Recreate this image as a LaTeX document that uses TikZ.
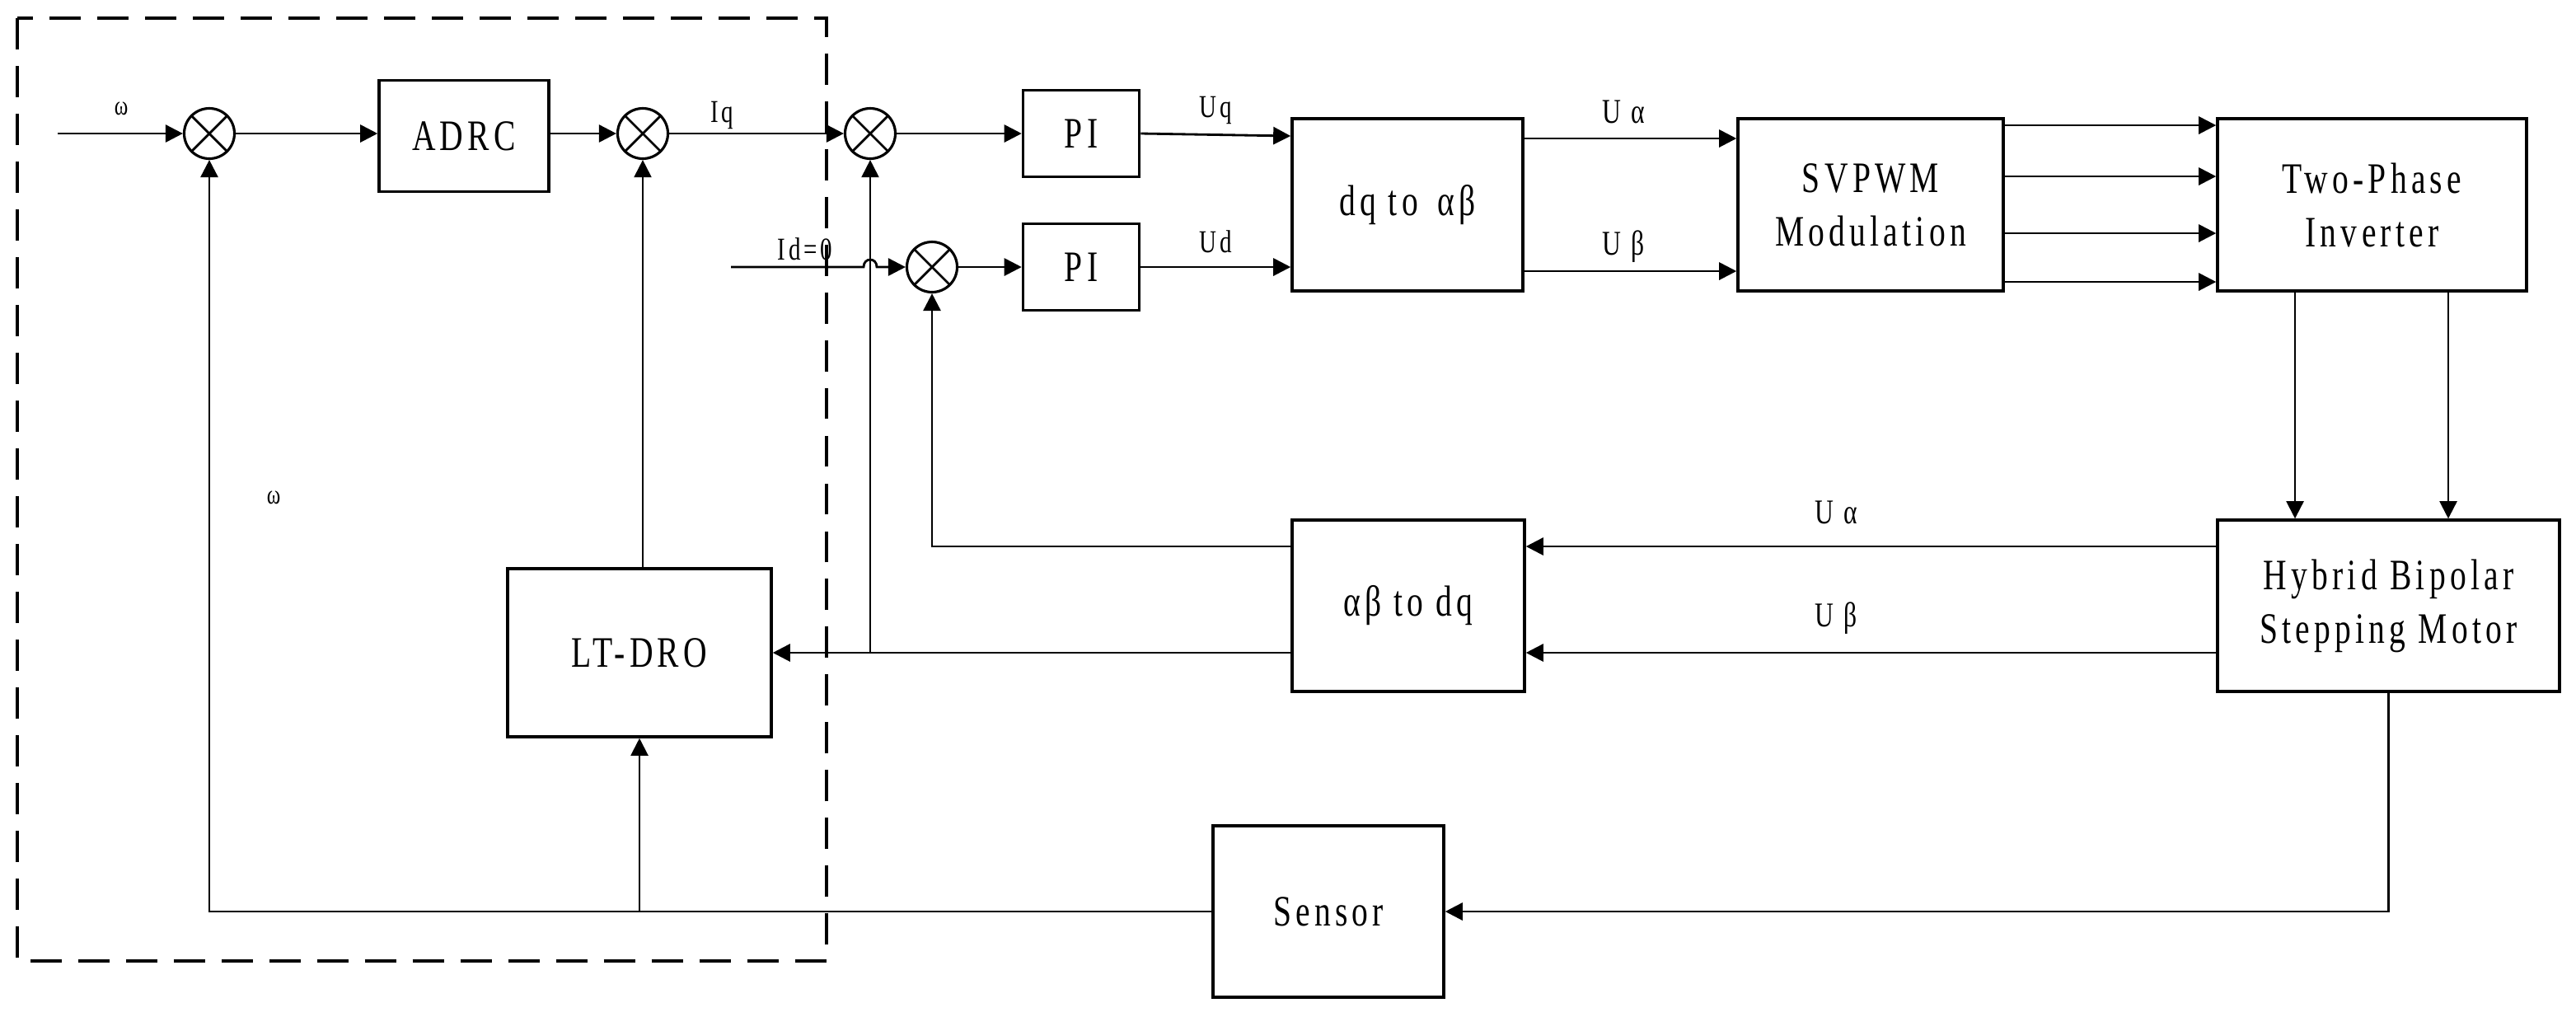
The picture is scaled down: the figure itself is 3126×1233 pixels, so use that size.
\documentclass[tikz,border=0pt]{standalone}
\usepackage{fontspec}
\setmainfont[FakeStretch=0.75,LetterSpace=10]{Liberation Serif}
\usetikzlibrary{arrows.meta}
\begin{document}
\begin{tikzpicture}[x=0.1mm,y=-0.1mm,
  line width=0.8pt,
  blk/.style={draw,line width=1pt,inner sep=0pt,align=center,
    font=\fontsize{15}{18.5}\selectfont},
  sumj/.style={circle,draw,line width=0.9pt,minimum size=6.1mm,inner sep=0pt,
    path picture={\draw[line width=0.8pt]
      (path picture bounding box.north west) -- (path picture bounding box.south east)
      (path picture bounding box.north east) -- (path picture bounding box.south west);}},
  arr/.style={-{Triangle[length=6pt,width=6pt]}},
  thin/.style={line width=0.6pt},
  lbl/.style={inner sep=0pt,font=\fontsize{12}{14}\selectfont},
  slbl/.style={inner sep=0pt,font=\fontsize{11}{13}\selectfont},
  wlbl/.style={inner sep=0pt,font=\fontsize{9.5}{11}\selectfont}]
\useasboundingbox (0,0) rectangle (3126,1233);

% dashed controller frame
\draw[line width=0.9pt,dash pattern=on 10.8pt off 5.7pt] (21,22) rectangle (1003,1166);

% nodes
\node[sumj] (s1) at (254,162) {};
\node[blk,minimum width=20.6mm,minimum height=13.5mm] (adrc) at (563,165) {ADRC};
\node[sumj] (s2) at (780,162) {};
\node[sumj] (s3) at (1056,162) {};
\node[blk,minimum width=14.1mm,minimum height=10.5mm] (pi1) at (1312,162) {PI};
\node[sumj] (s4) at (1131,324) {};
\node[blk,minimum width=14.1mm,minimum height=10.5mm] (pi2) at (1312,324) {PI};
\node[blk,minimum width=28mm,minimum height=20.9mm] (dq) at (1708,248.5) {dq to \,αβ};
\node[blk,minimum width=32.2mm,minimum height=20.9mm] (svpwm) at (2270,248.5) {SVPWM\\Modulation};
\node[blk,minimum width=37.5mm,minimum height=20.9mm] (inv) at (2878.5,248.5) {Two-Phase\\Inverter};
\node[blk,minimum width=41.5mm,minimum height=20.8mm] (motor) at (2898.5,735) {Hybrid Bipolar\\Stepping Motor};
\node[blk,minimum width=28.2mm,minimum height=20.8mm] (ab) at (1709,735) {αβ to dq};
\node[blk,minimum width=32mm,minimum height=20.4mm] (lt) at (776,792) {LT-DRO};
\node[blk,minimum width=28mm,minimum height=20.8mm] (sensor) at (1612,1106) {Sensor};

% helper coordinates
\coordinate (win) at (70,162);
\coordinate (idin) at (887,324);
\coordinate (hop) at (1056,324);
\coordinate (ya) at (0,168);
\coordinate (yb) at (0,329);
\coordinate (p1) at (0,152);
\coordinate (p2) at (0,214);
\coordinate (p3) at (0,283);
\coordinate (p4) at (0,342);
\coordinate (xv1) at (2785,0);
\coordinate (xv2) at (2971,0);
\coordinate (ym1) at (0,663);

% labels
\node[wlbl] (lw1) at (147,132) {ω};
\node[slbl] (liq) at (876,140) {Iq};
\node[slbl] (lid) at (977,302) {Id=0};
\node[slbl] (luq) at (1475,134) {Uq};
\node[slbl] (lud) at (1475,293) {Ud};
\node[lbl] (lua1) at (1970,136) {U α};
\node[lbl] (lub1) at (1970,299) {U β};
\node[lbl] (lua2) at (2228,622) {U α};
\node[lbl] (lub2) at (2228,750) {U β};
\node[wlbl] (lw2) at (332,604) {ω};

% forward path
\draw[arr] (win) -- (s1.west);
\draw[arr] (s1.east) -- (adrc.west |- s1.east);
\draw[arr] (adrc.east |- s2.west) -- (s2.west);
\draw[arr] (s2.east) -- (s3.west);
\draw[arr] (s3.east) -- (pi1.west |- s3.east);
\draw[arr] (pi1.east) -- ([yshift=-0.3mm]pi1.east -| dq.west);
\draw[arr] (idin) -- ([xshift=-0.8mm]hop) .. controls +(0,1.2mm) and +(0,1.2mm) .. ([xshift=0.8mm]hop) -- (s4.west);
\draw[arr] (s4.east) -- (pi2.west |- s4.east);
\draw[arr] (pi2.east) -- (pi2.east -| dq.west);
\draw[arr] (dq.east |- ya) -- (svpwm.west |- ya);
\draw[arr] (dq.east |- yb) -- (svpwm.west |- yb);
\draw[arr] (svpwm.east |- p1) -- (inv.west |- p1);
\draw[arr] (svpwm.east |- p2) -- (inv.west |- p2);
\draw[arr] (svpwm.east |- p3) -- (inv.west |- p3);
\draw[arr] (svpwm.east |- p4) -- (inv.west |- p4);
\draw[arr,thin] (inv.south -| xv1) -- (motor.north -| xv1);
\draw[arr,thin] (inv.south -| xv2) -- (motor.north -| xv2);

% feedback paths
\draw[arr] (motor.west |- ym1) -- (ab.east |- ym1);
\draw[arr] (motor.west |- lt.east) -- (ab.east |- lt.east);
\draw[arr] (ab.west |- ym1) -| (s4.south);
\draw[arr] (ab.west |- lt.east) -- (lt.east);
\draw[arr,thin] (s3.south |- lt.east) -- (s3.south);
\draw[arr] (motor.south) |- (sensor.east);
\draw[arr] (sensor.west) -| (s1.south);
\draw[arr,thin] (lt.south |- sensor.west) -- (lt.south);
\draw[arr,thin] (lt.north -| s2.south) -- (s2.south);
\end{tikzpicture}
\end{document}
